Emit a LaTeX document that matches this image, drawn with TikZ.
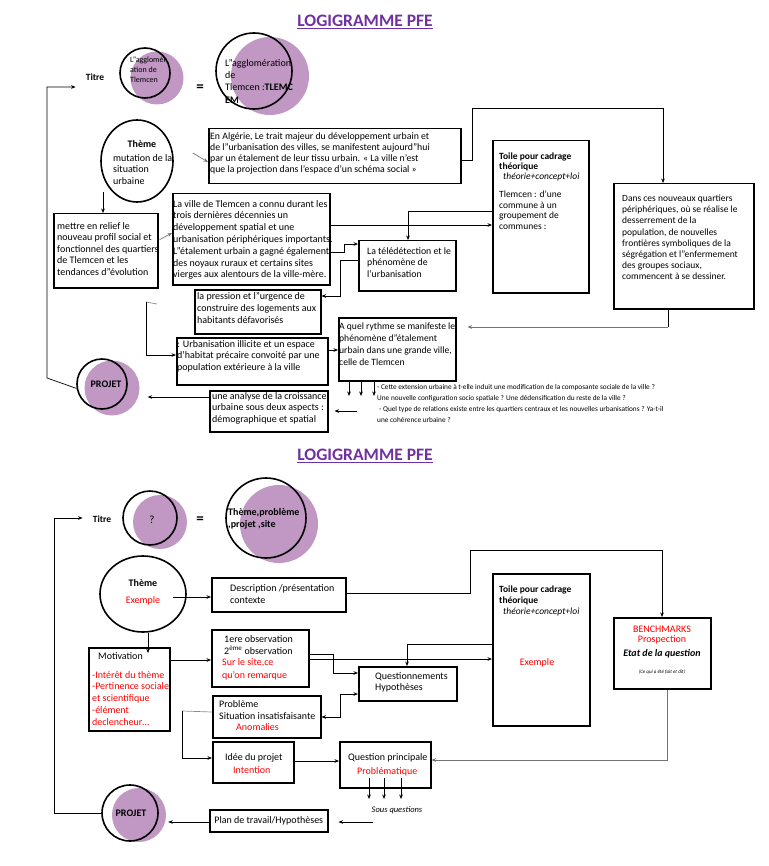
\documentclass[tikz,border=0pt]{standalone}
\usepackage{fontspec}
\setmainfont{Carlito}
\usetikzlibrary{arrows.meta,calc,shapes.geometric}
\definecolor{mauve}{RGB}{193,151,196}
\definecolor{ttlpurple}{RGB}{112,48,160}
\definecolor{rd}{RGB}{255,0,0}
\begin{document}
\begin{tikzpicture}[x=1pt,y=-1pt,
  box/.style={draw, line width=1.5pt, inner sep=0pt, anchor=north west},
  t/.style={font=\fontsize{10}{11.6}\selectfont, align=left, inner sep=0pt, anchor=north west},
  tc/.style={font=\fontsize{10}{11.6}\selectfont, inner sep=0pt},
  ring/.style={draw, circle, line width=1.6pt, inner sep=0pt},
  oval/.style={draw, ellipse, line width=1.6pt, inner sep=0pt},
  blob/.style={fill=mauve, circle, inner sep=0pt},
  arr/.style={-{Stealth[length=4.5pt,width=3.6pt]}, line width=0.7pt},
  darr/.style={{Stealth[length=4.5pt,width=3.6pt]}-{Stealth[length=4.5pt,width=3.6pt]}, line width=0.7pt},
  garr/.style={arr, draw=black!55},
  gln/.style={line width=0.7pt, draw=black!45},
  ln/.style={line width=0.7pt},
  ttl/.style={font=\fontsize{17.5}{20}\selectfont\bfseries, text=ttlpurple, inner sep=0pt}
]
\useasboundingbox (0,0) rectangle (768,866);

% ================= TOP HALF =================
\node[ttl] (ttl1) at (365,21) {LOGIGRAMME PFE};
\draw[ttlpurple, line width=1.2pt] ([yshift=-1.5pt]ttl1.south west) -- ([yshift=-1.5pt]ttl1.south east);

\node[tc, font=\fontsize{9.5}{11}\selectfont\bfseries] (titre1) at (95,77) {Titre};

\node[blob, minimum size=53pt] (c1p) at (157,78) {};
\node[t, font=\fontsize{8}{9.8}\selectfont] (c1t) at (130,57) {L"agglomér\\ation de\\Tlemcen};
\node[ring, minimum size=50pt] (c1) at (145,73) {};

\node[tc, font=\fontsize{15}{15}\selectfont\bfseries] (eq1) at (200,88) {=};

\node[blob, minimum size=78pt] (c2p) at (270,76) {};
\node[t, font=\fontsize{10}{12.3}\selectfont] (c2t) at (225,59) {L"agglomération\\de\\Tlemcen :\textbf{TLEMC}\\\textbf{EM}};
\node[ring, minimum size=76pt] (c2) at (254,71) {};

\node[oval, minimum width=72pt, minimum height=82pt] (theme1) at (137,161) {};
\node[tc, font=\fontsize{10}{12}\selectfont\bfseries] (theme1a) at (142,144) {Thème};
\node[t] (theme1b) at (113,154) {mutation de la\\situation\\urbaine};

\node[box, minimum width=252pt, minimum height=55pt] (algerie) at (208,128) {};
\node[t, font=\fontsize{9.8}{11}\selectfont] (algeriet) at (210,132) {En Algérie, Le trait majeur du développement urbain et\\de l"urbanisation des villes, se manifestent aujourd"hui\\par un étalement de leur tissu urbain. « La ville n’est\\que la projection dans l’espace d’un schéma social »};

\node[box, minimum width=104pt, minimum height=74pt] (mettre) at (53,213) {};
\node[t] (mettret) at (57,222) {mettre en relief le\\nouveau profil social et\\fonctionnel des quartiers\\de Tlemcen et les\\tendances d"évolution};

\node[box, minimum width=157pt, minimum height=91pt] (laville) at (172,193) {};
\node[t, font=\fontsize{10}{11.8}\selectfont] (villet) at (173,200) {La ville de Tlemcen a connu durant les\\trois dernières décennies un\\développement spatial et une\\urbanisation périphériques importants.\\L"étalement urbain a gagné également\\des noyaux ruraux et certains sites\\vierges aux alentours de la ville-mère.};

\node[box, minimum width=97pt, minimum height=50pt] (tele) at (358,240) {};
\node[t, font=\fontsize{9.8}{11.5}\selectfont] (telet) at (367,247) {La télédétection et le\\phénomène de\\l’urbanisation};

\node[box, minimum width=126pt, minimum height=44pt] (pression) at (194,289) {};
\node[t, font=\fontsize{10}{12}\selectfont] (pressiont) at (197,292) {la pression et l"urgence de\\construire des logements aux\\habitants défavorisés};

\node[box, minimum width=117pt, minimum height=63pt] (quel) at (338,317) {};
\node[t, font=\fontsize{9.6}{12}\selectfont] (quelt) at (339,323) {A quel rythme se manifeste le\\phénomène d"étalement\\urbain dans une grande ville,\\celle de Tlemcen};

\node[box, minimum width=151pt, minimum height=47pt] (urban) at (176,337) {};
\node[t, font=\fontsize{10}{11.5}\selectfont] (urbant) at (177,340) {: Urbanisation illicite et un espace\\d’habitat précaire convoité par une\\population extérieure à la ville};

\node[box, minimum width=118pt, minimum height=41pt] (analyse) at (209,390) {};
\node[t, font=\fontsize{10}{11.5}\selectfont] (analyset) at (212,392) {une analyse de la croissance\\urbaine sous deux aspects :\\démographique et spatial};

\node[box, minimum width=96pt, minimum height=152pt] (toile1) at (492,140) {};
\node[t, font=\fontsize{9.5}{9.7}\selectfont] (toile1a) at (499,153) {\textbf{Toile pour cadrage}\\\textbf{théorique}\\\hspace*{4pt}\textit{théorie+concept+loi}};
\node[t, font=\fontsize{9.5}{10.4}\selectfont] (toile1b) at (499,191) {Tlemcen : d’une\\commune à un\\groupement de\\communes :};

\node[box, minimum width=140pt, minimum height=125pt] (dans) at (613,183) {};
\node[t, font=\fontsize{9.5}{11.1}\selectfont] (danst) at (622,195) {Dans ces nouveaux quartiers\\périphériques, où se réalise le\\desserrement de la\\population, de nouvelles\\frontières symboliques de la\\ségrégation et l"enfermement\\des groupes sociaux,\\commencent à se dessiner.};

\node[t, font=\fontsize{7.3}{11}\selectfont] (questt) at (377,384) {- Cette extension urbaine à t-elle induit une modification de la composante sociale de la ville ?\\Une nouvelle configuration socio spatiale ? Une dédensification du reste de la ville ?\\\hspace*{2pt}- Quel type de relations existe entre les quartiers centraux et les nouvelles urbanisations ? Ya-t-il\\une cohérence urbaine ?};

\node[blob, minimum size=55pt] (p1p) at (112,388) {};
\node[tc, font=\fontsize{10}{12}\selectfont\bfseries] (p1t) at (106,384) {PROJET};
\node[ring, minimum size=50pt] (p1) at (102,384) {};

% connectors top
\coordinate (L1) at (47,87);
\coordinate (L1b) at (47,378);
\draw[arr, shorten >=10pt] (p1.190) -- (L1b) -- (L1) -- (L1 -| titre1.west);

\coordinate (k1) at (663,108);
\draw[arr] (algerie.east |- 0,160) -| (472,108) -- (k1) -- (k1 |- dans.north);
\draw[garr] ($(theme1.east)+(19,-8)$) -- (algerie.west |- 0,162);
\coordinate (a1) at (103,192);
\draw[arr] (a1) -- (a1 |- mettre.north);
\draw[garr] ($(mettre.east)+(1,-11)$) -- (laville.west |- 0,233);
\draw[arr] (laville.east |- 0,225) -- (toile1.west |- 0,225);
\coordinate (k2) at (408,211);
\draw[arr] (toile1.west |- k2) -- (k2) -- (k2 |- tele.north);
\draw[arr] (laville.east |- 0,252) -- (344,252) -- (344,244) -- (tele.west |- 0,244);
\draw[arr] (tele.west |- 0,260) -- (340,260) -- (340,296) -- (pression.east |- 0,296);
\coordinate (k3) at (668,327);
\draw[ln] (dans.south -| k3) -- (k3);
\draw[garr, shorten >=11pt] (k3) -- (quel.east |- k3);
\draw[arr] (urban.east |- 0,350) -- (quel.west |- 0,350);
\coordinate (k4) at (157,304);
\coordinate (k5) at (146,302);
\draw[gln] (k4) -- (k5);
\draw[arr] (k5) -- (k5 |- 0,355) -- (urban.west |- 0,355);
\draw[arr, shorten >=8pt] (analyse.west |- 0,397) -- (p1p.east |- 0,397);
\coordinate (k6) at (357,411);
\draw[arr, shorten >=6pt] (k6) -- (analyse.east |- k6);
\foreach \x in {349,361,374} \draw[arr] (quel.south -| \x,0) -- (\x,396);

% ================= BOTTOM HALF =================
\node[ttl] (ttl2) at (365,455) {LOGIGRAMME PFE};
\draw[ttlpurple, line width=1.2pt] ([yshift=-1.5pt]ttl2.south west) -- ([yshift=-1.5pt]ttl2.south east);

\node[tc, font=\fontsize{9.5}{11}\selectfont\bfseries] (titre2) at (102,519) {Titre};

\node[blob, minimum size=54pt] (c3p) at (160,522) {};
\node[tc, font=\fontsize{11}{12}\selectfont] (c3t) at (152,520) {?};
\node[ring, minimum size=54pt] (c3) at (150,518) {};

\node[tc, font=\fontsize{15}{15}\selectfont\bfseries] (eq2) at (200,520) {=};

\node[blob, minimum size=78pt] (c4p) at (279,524) {};
\node[t, font=\fontsize{10}{12}\selectfont\bfseries] (c4t) at (228,508) {Thème,problème\\,projet ,site};
\node[ring, minimum size=80pt] (c4) at (266,518) {};

\node[oval, minimum width=86pt, minimum height=76pt] (theme2) at (143,594) {};
\node[tc, font=\fontsize{10}{12}\selectfont\bfseries] (theme2a) at (143,583) {Thème};
\node[tc, text=rd] (theme2b) at (143,601) {Exemple};

\node[box, minimum width=134pt, minimum height=34pt] (desc) at (211,577) {};
\node[t, font=\fontsize{10}{12}\selectfont] (desct) at (230,584) {Description /présentation\\contexte};

\node[box, minimum width=81pt, minimum height=83pt] (motiv) at (88,647) {};
\node[t] (motivt) at (98,652) {Motivation};
\node[t, text=rd, font=\fontsize{10}{11.8}\selectfont] (motivr) at (92,671) {-Intérêt du thème\\-Pertinence sociale\\et scientifique\\-élément\\declencheur…};

\node[box, minimum width=97pt, minimum height=57pt] (obs) at (211,629) {};
\node[t, font=\fontsize{10}{12}\selectfont] (obst) at (224,635) {1ere observation\\2\textsuperscript{ème} observation};
\node[t, text=rd, font=\fontsize{10}{13}\selectfont] (obsr) at (222,658) {Sur le site,ce\\qu’on remarque};

\node[box, minimum width=98pt, minimum height=34pt] (quest) at (358,666) {};
\node[t, font=\fontsize{10}{11.5}\selectfont] (questt2) at (375,672) {Questionnements\\Hypothèses};

\node[box, minimum width=108pt, minimum height=42pt] (prob) at (212,695) {};
\node[t, font=\fontsize{10}{12}\selectfont] (probt) at (219,700) {Problème\\Situation insatisfaisante};
\node[t, text=rd] (probr) at (236,723) {Anomalies};

\node[box, minimum width=81pt, minimum height=41pt] (idee) at (212,741) {};
\node[t] (ideet) at (225,753) {Idée du projet};
\node[t, text=rd] (ideer) at (233,766) {Intention};

\node[box, minimum width=91pt, minimum height=46pt] (qp) at (339,741) {};
\node[t] (qpt) at (348,753) {Question principale};
\node[t, text=rd] (qpr) at (357,767) {Problématique};

\node[tc, font=\fontsize{8.5}{10}\selectfont\itshape] (sq) at (397,810) {Sous questions};

\node[box, minimum width=118pt, minimum height=22pt] (plan) at (209,809) {};
\node[tc] (plant) at (plan.center) {Plan de travail/Hypothèses};

\node[blob, minimum size=54pt] (p2p) at (139,815) {};
\node[tc, font=\fontsize{10}{12}\selectfont\bfseries] (p2t) at (131,813) {PROJET};
\node[ring, minimum size=56pt] (p2) at (130,813) {};

\node[box, minimum width=97pt, minimum height=152pt] (toile2) at (492,573) {};
\node[t, font=\fontsize{9.5}{11}\selectfont] (toile2a) at (499,586) {\textbf{Toile pour cadrage}\\\textbf{théorique}\\\hspace*{4pt}\textit{théorie+concept+loi}};
\node[tc, text=rd] (toile2r) at (537,663) {Exemple};

\node[box, minimum width=97pt, minimum height=71pt] (bench) at (613,617) {};
\node[tc, text=rd] (bench1) at (662,629) {BENCHMARKS};
\node[tc, text=rd] (bench2) at (662,640) {Prospection};
\node[tc, font=\fontsize{10}{12}\selectfont\bfseries\itshape] (bench3) at (662,654) {Etat de la question};
\node[tc, font=\fontsize{5}{6}\selectfont\itshape] (bench4) at (662,672) {(Ce qui a été fait et dit)};

% connectors bottom
\coordinate (L2) at (54,518);
\draw[arr, shorten >=10pt] (p2.west) -- (p2.west -| L2) -- (L2) -- (L2 -| titre2.west);
\coordinate (k7) at (470,550);
\coordinate (k8) at (662,550);
\draw[arr] (desc.east |- 0,593) -| (k7) -- (k8) -- (k8 |- bench.north);
\draw[arr] ($(theme2.center)+(30,3)$) -- (desc.west |- 0,597);
\coordinate (k9) at (148,653);
\draw[arr] (theme2.south -| k9) -- (k9);
\draw[arr] (motiv.east |- 0,660) -- (obs.west |- 0,660);
\draw[arr] (obs.east |- 0,654) -- (333,654) -- (333,673) -- (quest.west |- 0,673);
\draw[arr] (obs.east |- 0,659) -- (toile2.west |- 0,659);
\coordinate (k10) at (407,644);
\draw[arr] (toile2.west |- k10) -- (k10) -- (k10 |- quest.north);
\draw[darr] (prob.east |- 0,717) -- (340,717) -- (340,694) -- (quest.west |- 0,694);
\coordinate (k11) at (182,711);
\draw[gln] (prob.west |- 0,712) -- (k11);
\draw[arr] (k11) -- (k11 |- 0,758) -- (idee.west |- 0,758);
\draw[arr] (idee.east |- 0,761) -- (qp.west |- 0,761);
\coordinate (k12) at (667,760);
\draw[garr] (bench.south -| k12) -- (k12) -- (qp.east |- k12);
\foreach \x in {369,384,401} \draw[arr] (\x,778) -- (\x,799);
\coordinate (k13) at (373,822);
\draw[arr, shorten >=10pt] (k13) -- (plan.east |- k13);
\draw[arr, shorten >=2pt] (plan.west |- 0,822) -- (p2p.east |- 0,822);
\end{tikzpicture}
\end{document}
